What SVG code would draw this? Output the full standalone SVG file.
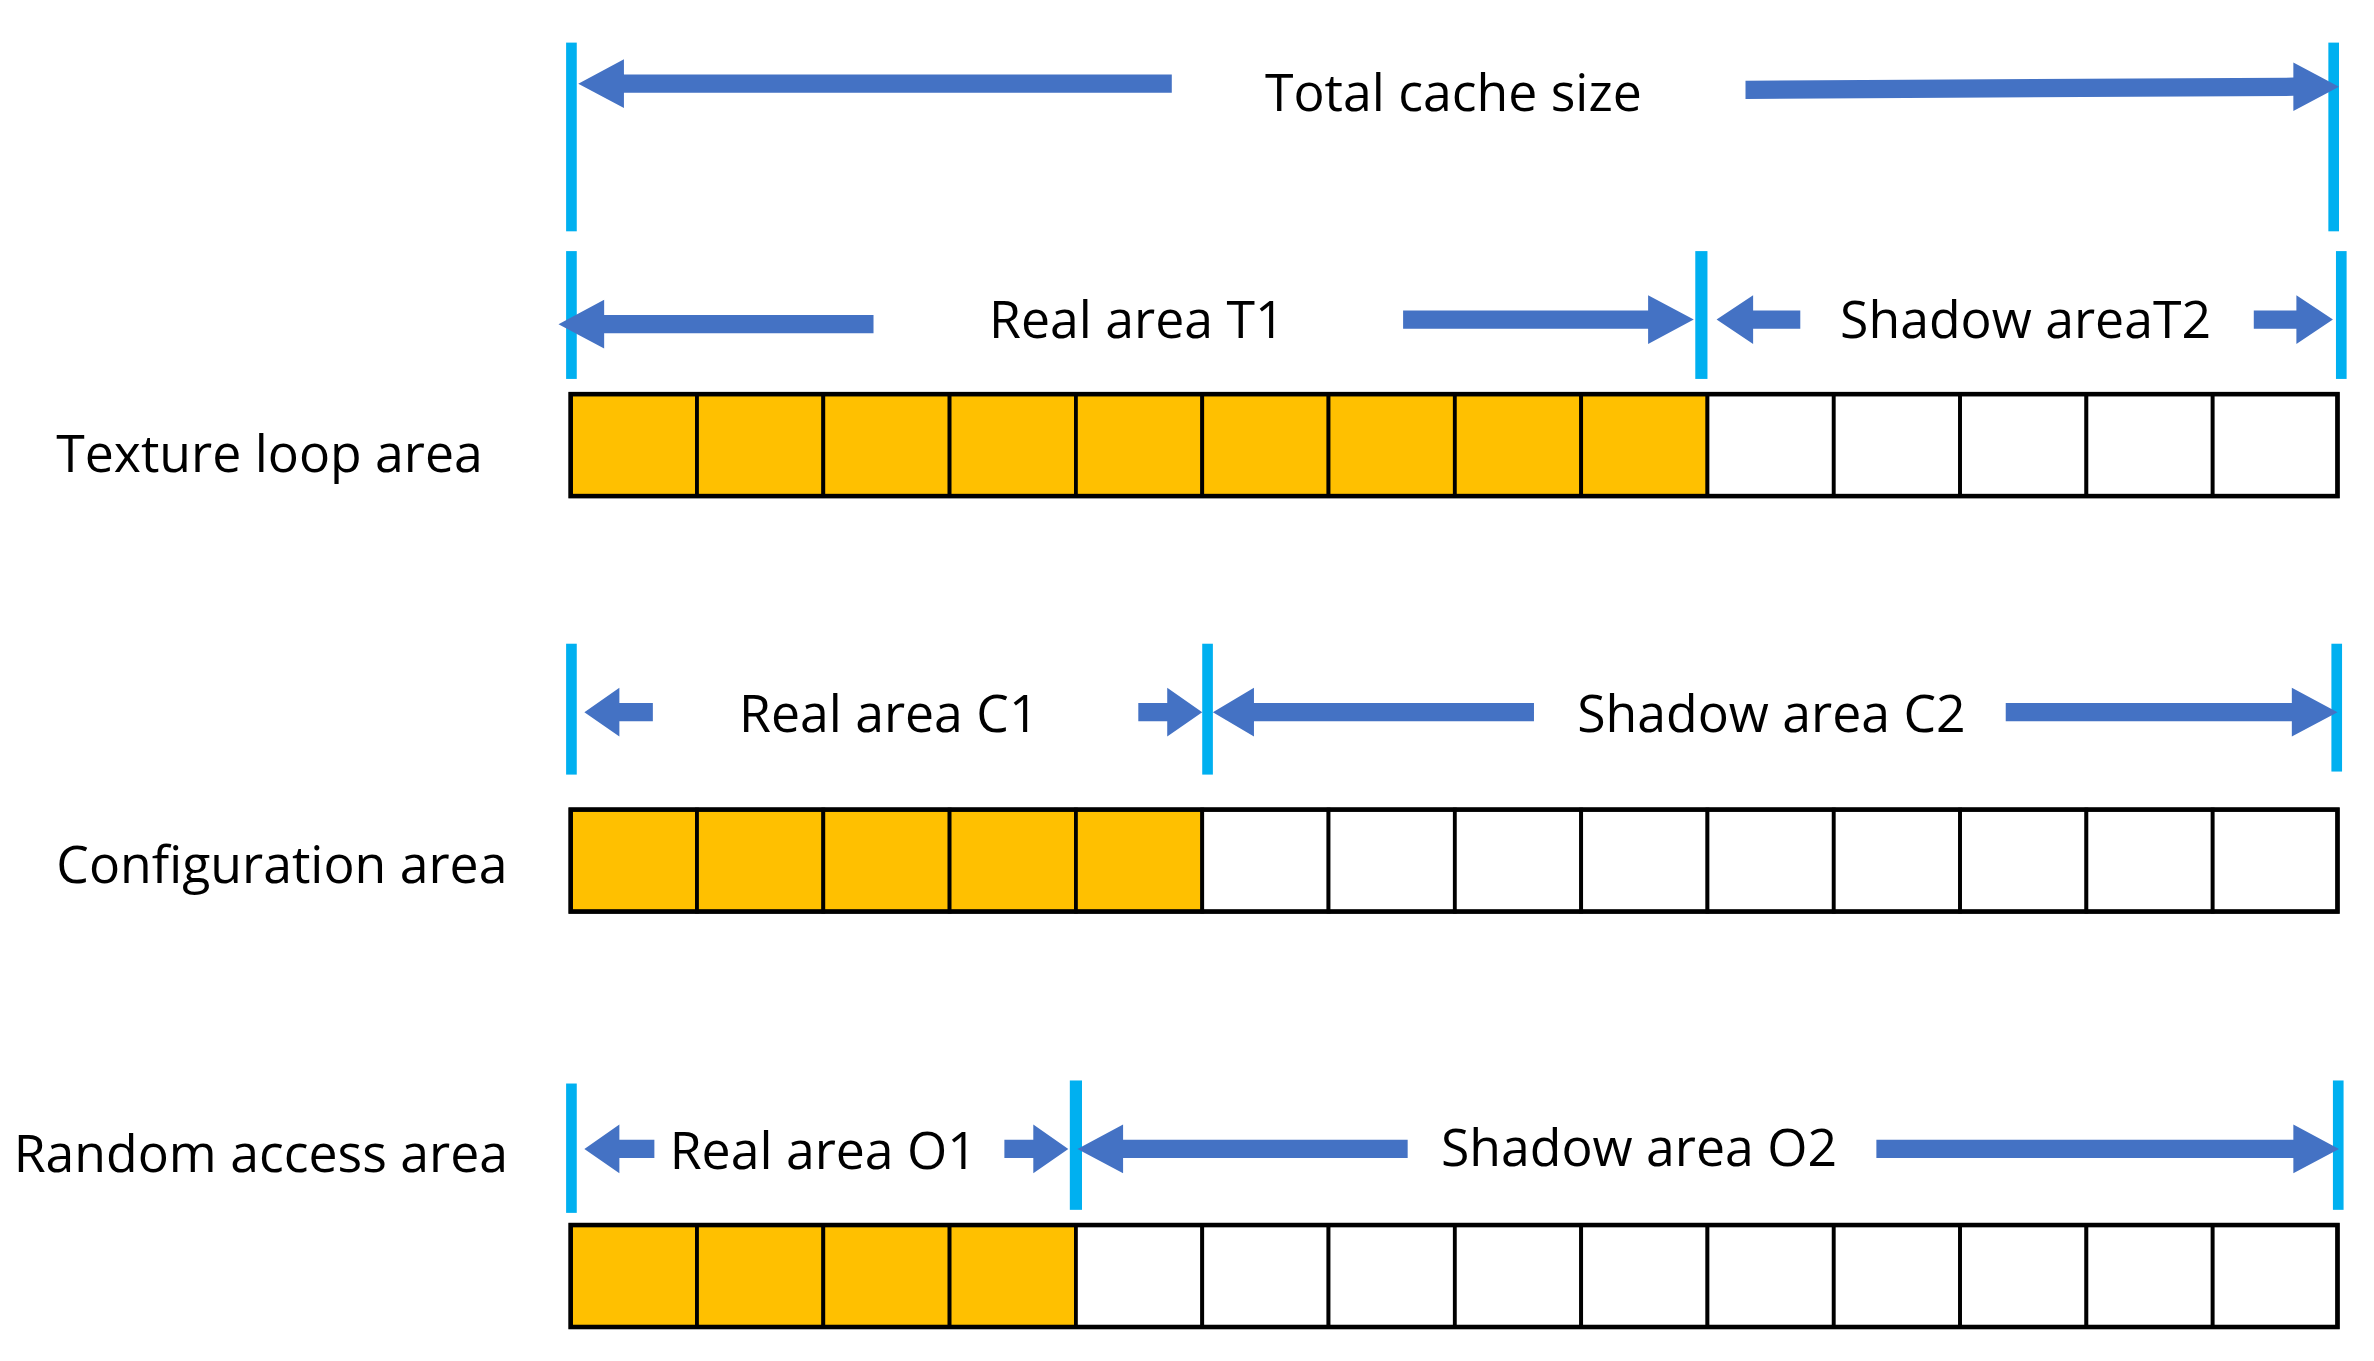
<svg xmlns="http://www.w3.org/2000/svg" width="2374" height="1361" viewBox="0 0 2374 1361">
<style>
.t{font-family:"Open Sans","Liberation Sans",sans-serif;font-size:34px;fill:#000}
.m{text-anchor:middle}
.bar{fill:#00B0F0}
.y{fill:#FFC000;stroke:#000;stroke-width:2.5}
.w{fill:#fff;stroke:#000;stroke-width:2.5}
.o{fill:none;stroke:#000;stroke-width:3}
.a{fill:#4472C4}
</style>
<rect width="2374" height="1361" fill="#fff"/>
<g transform="scale(1.5218)">
<g id="labels">
<text class="t" x="37" y="310">Texture loop area</text>
<text class="t" x="37" y="580">Configuration area</text>
<text class="t" x="9" y="770">Random access area</text>
</g>
<g id="row-texture">
<rect class="y" x="375" y="259" width="83" height="67"/><rect class="y" x="458" y="259" width="83" height="67"/><rect class="y" x="541" y="259" width="83" height="67"/><rect class="y" x="624" y="259" width="83" height="67"/><rect class="y" x="707" y="259" width="83" height="67"/><rect class="y" x="790" y="259" width="83" height="67"/><rect class="y" x="873" y="259" width="83" height="67"/><rect class="y" x="956" y="259" width="83" height="67"/><rect class="y" x="1039" y="259" width="83" height="67"/>
<rect class="w" x="1122" y="259" width="83" height="67"/><rect class="w" x="1205" y="259" width="83" height="67"/><rect class="w" x="1288" y="259" width="83" height="67"/><rect class="w" x="1371" y="259" width="83" height="67"/><rect class="w" x="1454" y="259" width="82" height="67"/>
<rect class="o" x="375" y="259" width="1161" height="67"/>
</g>
<g id="row-config">
<rect class="y" x="375" y="532" width="83" height="67"/><rect class="y" x="458" y="532" width="83" height="67"/><rect class="y" x="541" y="532" width="83" height="67"/><rect class="y" x="624" y="532" width="83" height="67"/><rect class="y" x="707" y="532" width="83" height="67"/>
<rect class="w" x="790" y="532" width="83" height="67"/><rect class="w" x="873" y="532" width="83" height="67"/><rect class="w" x="956" y="532" width="83" height="67"/><rect class="w" x="1039" y="532" width="83" height="67"/><rect class="w" x="1122" y="532" width="83" height="67"/><rect class="w" x="1205" y="532" width="83" height="67"/><rect class="w" x="1288" y="532" width="83" height="67"/><rect class="w" x="1371" y="532" width="83" height="67"/><rect class="w" x="1454" y="532" width="82" height="67"/>
<rect class="o" x="375" y="532" width="1161" height="67"/>
</g>
<g id="row-random">
<rect class="y" x="375" y="805" width="83" height="67"/><rect class="y" x="458" y="805" width="83" height="67"/><rect class="y" x="541" y="805" width="83" height="67"/><rect class="y" x="624" y="805" width="83" height="67"/>
<rect class="w" x="707" y="805" width="83" height="67"/><rect class="w" x="790" y="805" width="83" height="67"/><rect class="w" x="873" y="805" width="83" height="67"/><rect class="w" x="956" y="805" width="83" height="67"/><rect class="w" x="1039" y="805" width="83" height="67"/><rect class="w" x="1122" y="805" width="83" height="67"/><rect class="w" x="1205" y="805" width="83" height="67"/><rect class="w" x="1288" y="805" width="83" height="67"/><rect class="w" x="1371" y="805" width="83" height="67"/><rect class="w" x="1454" y="805" width="82" height="67"/>
<rect class="o" x="375" y="805" width="1161" height="67"/>
</g>
<g id="connectors">
<rect class="bar" x="372" y="28" width="7" height="124"/><rect class="bar" x="1530" y="28" width="7" height="124"/>
<rect class="bar" x="372" y="165" width="7" height="84"/><rect class="bar" x="1114" y="165" width="8" height="84"/><rect class="bar" x="1535" y="165" width="7" height="84"/>
<rect class="bar" x="372" y="423" width="7" height="86"/><rect class="bar" x="790" y="423" width="7" height="86"/><rect class="bar" x="1532" y="423" width="7" height="84"/>
<rect class="bar" x="372" y="712" width="7" height="85"/><rect class="bar" x="703" y="710" width="8" height="85"/><rect class="bar" x="1533" y="710" width="7" height="85"/>
<g class="a">
<path d="M380,55 L410,39 L410,49 L770,49 L770,61 L410,61 L410,71 Z"/>
<path d="M1537,57 L1507,41 L1507,51 L1147,53 L1147,65 L1507,63 L1507,73 Z"/>
<path d="M367,213 L397,197 L397,207 L574,207 L574,219 L397,219 L397,229 Z"/>
<path d="M1113,210 L1083,194 L1083,204 L922,204 L922,216 L1083,216 L1083,226 Z"/>
<path d="M1128,210 L1152,194 L1152,204 L1183,204 L1183,216 L1152,216 L1152,226 Z"/>
<path d="M1533,210 L1509,194 L1509,204 L1481,204 L1481,216 L1509,216 L1509,226 Z"/>
<path d="M384,468 L407,452 L407,462 L429,462 L429,474 L407,474 L407,484 Z"/>
<path d="M790,468 L767,452 L767,462 L748,462 L748,474 L767,474 L767,484 Z"/>
<path d="M797,468 L824,452 L824,462 L1008,462 L1008,474 L824,474 L824,484 Z"/>
<path d="M1536,468 L1506,452 L1506,462 L1318,462 L1318,474 L1506,474 L1506,484 Z"/>
<path d="M384,755 L407,739 L407,749 L430,749 L430,761 L407,761 L407,771 Z"/>
<path d="M702,755 L679,739 L679,749 L660,749 L660,761 L679,761 L679,771 Z"/>
<path d="M708,755 L738,739 L738,749 L925,749 L925,761 L738,761 L738,771 Z"/>
<path d="M1537,755 L1507,739 L1507,749 L1233,749 L1233,761 L1507,761 L1507,771 Z"/>
</g>
</g>
<g id="dim-labels">
<text class="t m" x="955" y="73">Total cache size</text>
<text class="t m" x="747" y="222">Real area T1</text>
<text class="t m" x="1331" y="222">Shadow areaT2</text>
<text class="t m" x="584" y="481">Real area C1</text>
<text class="t m" x="1164" y="481">Shadow area C2</text>
<text class="t m" x="541" y="768">Real area O1</text>
<text class="t m" x="1077" y="766">Shadow area O2</text>
</g>
</g>
</svg>
